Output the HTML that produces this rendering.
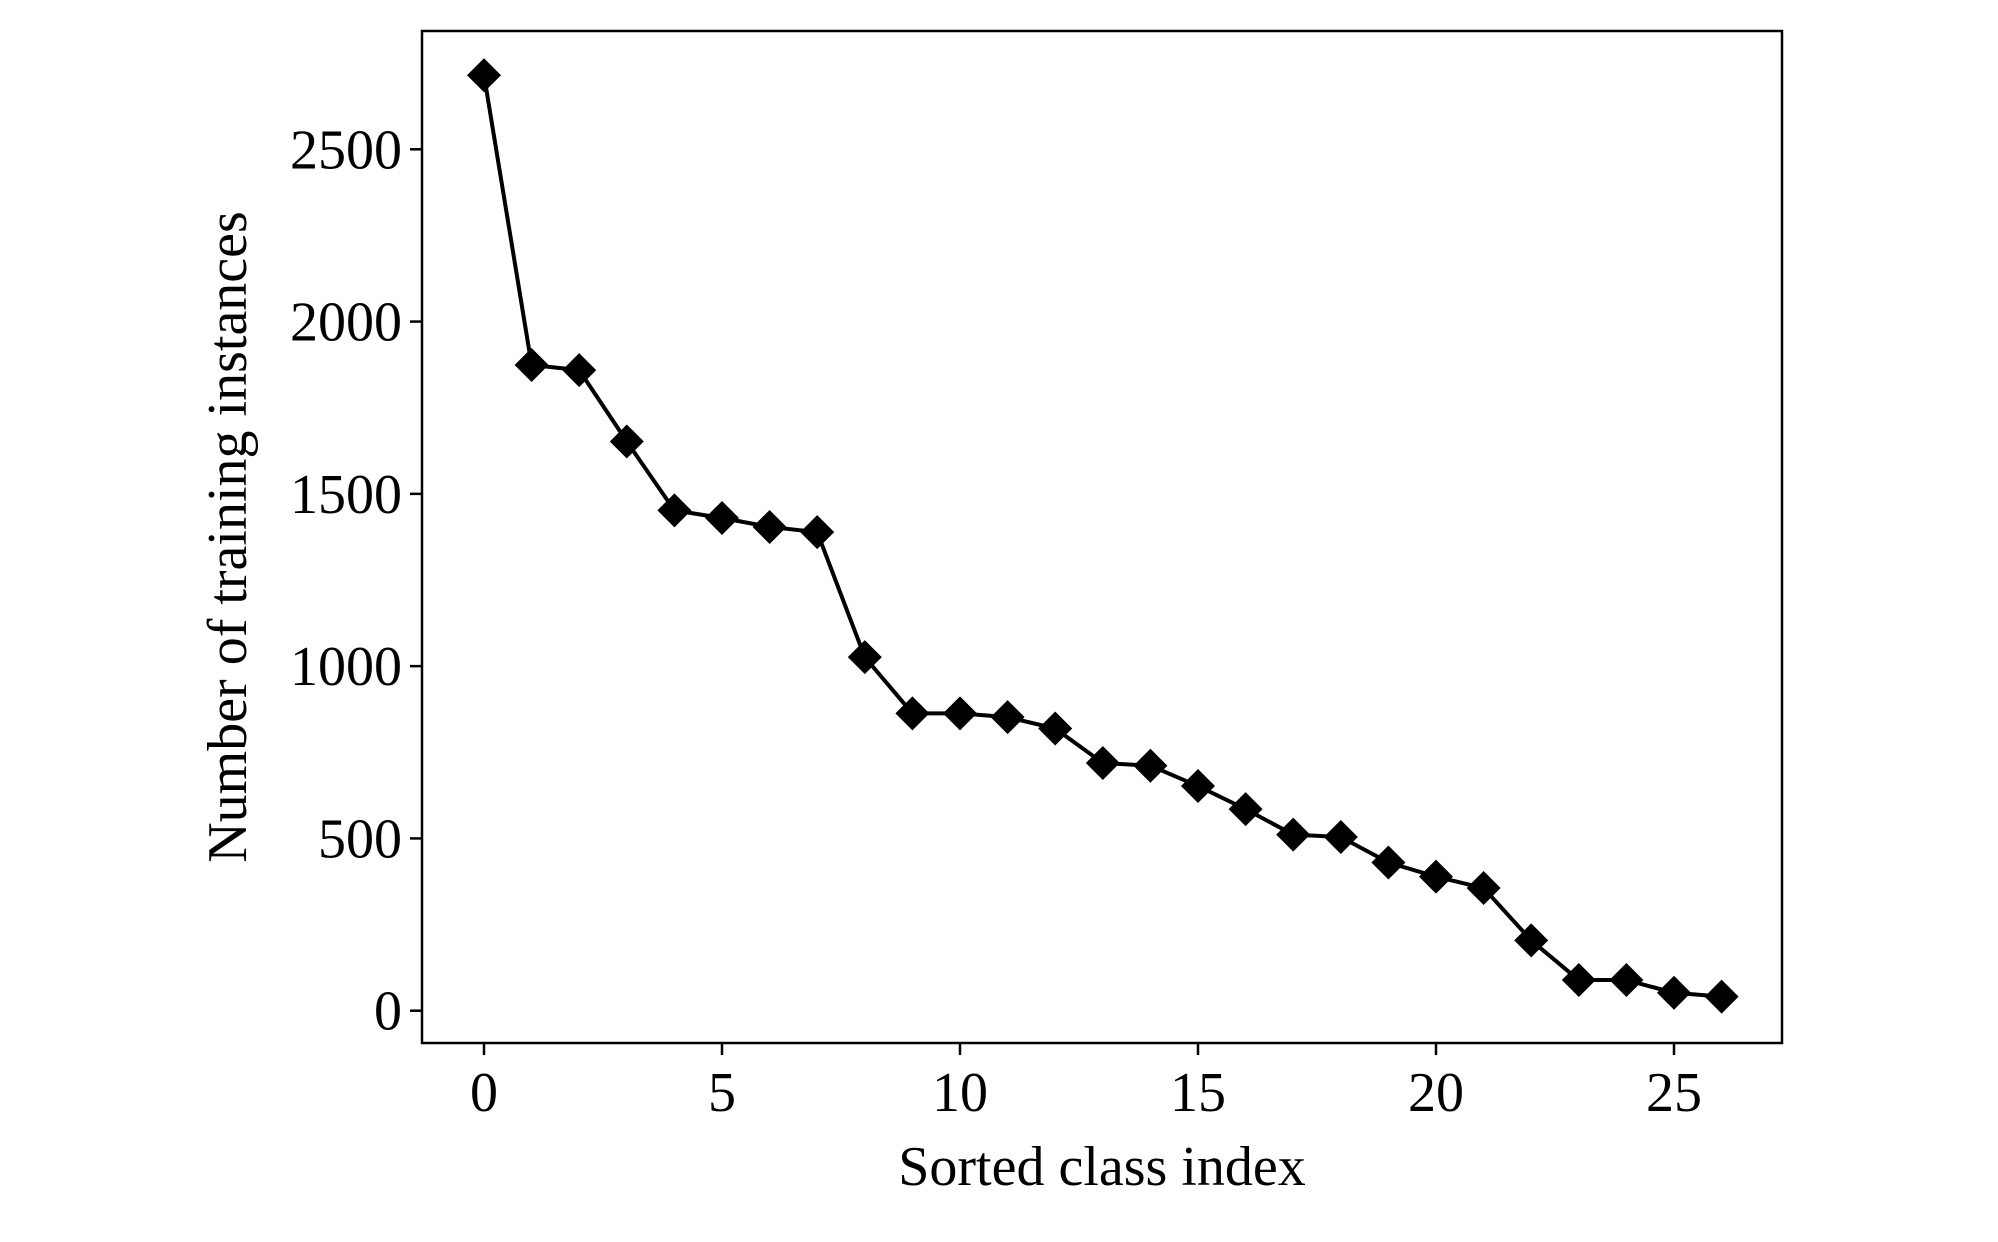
<!DOCTYPE html>
<html><head><meta charset="utf-8"><style>html,body{margin:0;padding:0;background:#fff}svg{display:block}</style></head>
<body>
<svg id="chart" width="1998" height="1242" xmlns="http://www.w3.org/2000/svg" font-family="'Liberation Serif', serif"></svg>
<script>
const categories = [0,1,2,3,4,5,6,7,8,9,10,11,12,13,14,15,16,17,18,19,20,21,22,23,24,25,26];
const values = [2715,1874,1859,1652,1452,1430,1404,1389,1026,863,863,852,819,719,711,652,585,511,504,430,389,356,204,89,89,52,41];
const xTicks = [0,5,10,15,20,25];
const yTicks = [0,500,1000,1500,2000,2500];

const L=422, R=1782, T=31, B=1043;
const x = v => 484 + v*47.6;
const y = v => 1010.7 - v*(861.4/2500);
const NS='http://www.w3.org/2000/svg';
const svg=document.getElementById('chart');
function mk(tag, attrs){const e=document.createElementNS(NS,tag);for(const k in attrs)e.setAttribute(k,attrs[k]);svg.appendChild(e);return e;}

for(const t of xTicks){
  const l=mk('line',{x1:x(t),x2:x(t),y1:B,y2:B+12,stroke:'#000','stroke-width':2.5});
  
  
  const tx=mk('text',{x:x(t),y:B+68,'font-size':56,'text-anchor':'middle',fill:'#000'});
  tx.textContent=t;
  
  
}
for(const t of yTicks){
  const l=mk('line',{x1:L-12,x2:L,y1:y(t),y2:y(t),stroke:'#000','stroke-width':2.5});
  
  
  const tx=mk('text',{x:L-20,y:y(t)+19,'font-size':56,'text-anchor':'end',fill:'#000'});
  tx.textContent=t;
  
  
}
const pts=categories.map((c,i)=>x(c)+','+y(values[i])).join(' ');
const line=mk('polyline',{points:pts,fill:'none',stroke:'#000','stroke-width':4,'stroke-linejoin':'round'});


const s=17;
categories.forEach((c,i)=>{
  const cx=x(c), cy=y(values[i]);
  const m=mk('polygon',{points:`${cx},${cy-s} ${cx+s},${cy} ${cx},${cy+s} ${cx-s},${cy}`,fill:'#000'});
  
  
});
const frame=mk('rect',{x:L,y:T,width:R-L,height:B-T,fill:'none',stroke:'#000','stroke-width':2.5});


const xl=mk('text',{x:(L+R)/2,y:1185,'font-size':56,'text-anchor':'middle',fill:'#000'});
xl.textContent='Sorted class index';


const yl=mk('text',{x:0,y:0,'font-size':56,'text-anchor':'middle',fill:'#000',transform:`translate(246,${(T+B)/2}) rotate(-90)`});
yl.textContent='Number of training instances';


</script>
</body></html>
